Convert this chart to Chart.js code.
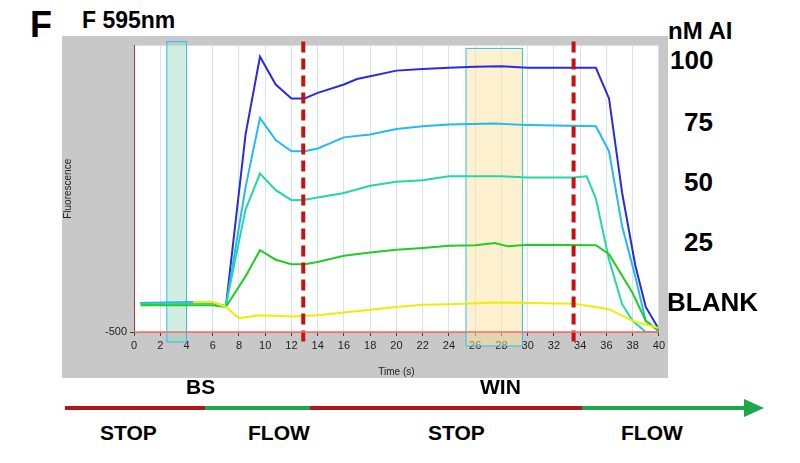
<!DOCTYPE html>
<html lang="en">
<head>
<meta charset="UTF-8">
<title>F 595nm</title>
<style>
  body { margin: 0; width: 800px; height: 463px; background: #fff; position: relative; font-family: Arial, "Liberation Sans", sans-serif; overflow: hidden; }
  .lbl { position: absolute; font-weight: bold; color: #000; white-space: nowrap; z-index: 2; }
  #wrap { position: absolute; left: 62px; top: 36px; width: 606px; height: 342px; background: #c8c8c8; }
  .bar { position: absolute; height: 4px; top: 406px; }
</style>
</head>
<body>
<div class="lbl" style="left:30px;top:4px;font-size:36px;">F</div>
<div class="lbl" style="left:82px;top:7px;font-size:23px;">F 595nm</div>
<div id="wrap"><canvas id="c" width="606" height="342"></canvas></div>

<div class="lbl" style="left:668px;top:17px;font-size:24px;">nM AI</div>
<div class="lbl" style="left:670px;top:45px;font-size:26px;">100</div>
<div class="lbl" style="left:684px;top:107px;font-size:26px;">75</div>
<div class="lbl" style="left:684px;top:167px;font-size:26px;">50</div>
<div class="lbl" style="left:684px;top:227px;font-size:26px;">25</div>
<div class="lbl" style="left:667px;top:287px;font-size:26px;">BLANK</div>

<div class="lbl" style="left:186px;top:375px;font-size:21px;">BS</div>
<div class="lbl" style="left:480px;top:375px;font-size:21px;">WIN</div>
<div class="bar" style="left:65px;width:140px;background:#b01818;"></div>
<div class="bar" style="left:205px;width:105px;background:#1aa84a;"></div>
<div class="bar" style="left:310px;width:272px;background:#b01818;"></div>
<div class="bar" style="left:582px;width:163px;background:#1aa84a;"></div>
<div style="position:absolute;left:744px;top:399px;width:0;height:0;border-top:9px solid transparent;border-bottom:9px solid transparent;border-left:20px solid #1aa84a;"></div>
<div class="lbl" style="left:100px;top:421px;font-size:21px;">STOP</div>
<div class="lbl" style="left:248px;top:421px;font-size:21px;">FLOW</div>
<div class="lbl" style="left:428px;top:421px;font-size:21px;">STOP</div>
<div class="lbl" style="left:621px;top:421px;font-size:21px;">FLOW</div>

<script src="https://cdn.jsdelivr.net/npm/chart.js"></script>
<script>
// series [time s, fluorescence]
const nm100 = [[0.5,20],[4.5,30],[6,30],[7,-50],[8.5,3050],[9.6,4450],[10.8,3950],[12,3700],[13,3700],[14,3800],[16,3950],[17,4050],[18,4100],[20,4200],[22,4230],[24,4250],[26,4270],[28,4280],[30,4250],[32,4250],[35.2,4250],[36.2,3700],[37.2,2000],[38.2,700],[39,-50],[40,-450]];
const nm75 = [[0.5,20],[6,30],[7,-50],[8.5,2100],[9.6,3350],[10.8,2950],[12,2750],[13,2750],[14,2800],[16,3000],[18,3050],[20,3150],[22,3200],[24,3230],[27.5,3250],[30,3220],[35.2,3200],[36.2,2750],[37.2,1400],[38.2,500],[39,-300],[40,-480]];
const nm50 = [[0.5,0],[6,20],[7,-30],[8.5,1700],[9.6,2350],[10.8,2050],[12,1870],[13,1880],[16,2000],[18,2130],[20,2200],[22,2230],[24,2300],[28,2300],[30,2280],[33.5,2280],[34.5,2300],[35.2,1900],[36.2,800],[37.2,0],[38,-300],[39,-500],[40,-500]];
const nm25 = [[0.5,-20],[4.5,-20],[6,-20],[7,-50],[8.5,500],[9.6,970],[10.8,800],[12,720],[13,720],[14,760],[16,870],[18,930],[20,980],[22,1010],[24,1050],[26,1060],[27.5,1100],[28.5,1040],[30,1070],[35.2,1060],[36.2,900],[38,200],[39,-300],[40,-480]];
const blank = [[4.5,40],[6,40],[7,-50],[8,-250],[9.6,-200],[12,-220],[14,-200],[16,-150],[18,-100],[20,-50],[22,-10],[24,0],[27.5,30],[30,20],[33.5,10],[35.2,-50],[36.2,-90],[38,-300],[40,-430]];
const stopLines = [12.9, 33.5];
const bsWindow = [2.5, 4];
const winWindow = [25.3, 29.6];

const toPts = a => a.map(p => ({x: p[0], y: p[1]}));
const ds = (data, color) => ({data: toPts(data), borderColor: color, borderWidth: 2, pointRadius: 0, tension: 0});

const overlay = {
  id: 'overlay',
  beforeDraw(chart) {
    const {ctx, chartArea: a} = chart;
    ctx.save();
    ctx.fillStyle = '#fff';
    ctx.fillRect(a.left, a.top, a.right - a.left, a.bottom - a.top);
    ctx.restore();
  },
  beforeDatasetsDraw(chart) {
    const {ctx, scales: {x, y}} = chart;
    const box = (r, fill, top, bot) => {
      const l = x.getPixelForValue(r[0]), rr = x.getPixelForValue(r[1]);
      ctx.fillStyle = fill; ctx.fillRect(l, top, rr - l, bot - top);
      ctx.strokeStyle = '#33bbee'; ctx.lineWidth = 1; ctx.strokeRect(l, top, rr - l, bot - top);
    };
    ctx.save();
    box(bsWindow, 'rgba(150,220,190,0.45)', y.getPixelForValue(4650) - 4, y.getPixelForValue(-500) + 10);
    box(winWindow, 'rgba(250,225,160,0.5)', y.getPixelForValue(4600), y.getPixelForValue(-500) + 14);
    ctx.restore();
  },
  afterDatasetsDraw(chart) {
    const {ctx, scales: {x, y}} = chart;
    ctx.save();
    ctx.strokeStyle = '#c81010'; ctx.lineWidth = 4; ctx.setLineDash([11, 6]);
    stopLines.forEach(v => {
      const px = x.getPixelForValue(v);
      ctx.beginPath(); ctx.moveTo(px, y.getPixelForValue(4650) - 4); ctx.lineTo(px, y.getPixelForValue(-500) + 12); ctx.stroke();
    });
    ctx.setLineDash([]);
    ctx.strokeStyle = '#f07070'; ctx.lineWidth = 1.5;
    ctx.beginPath(); ctx.moveTo(x.left, y.bottom); ctx.lineTo(x.right, y.bottom); ctx.stroke();
    ctx.restore();
  }
};

new Chart(document.getElementById('c'), {
  type: 'line',
  data: { datasets: [
    ds(blank, '#eeee00'),
    ds(nm25, '#22cc22'),
    ds(nm50, '#22d8a8'),
    ds(nm75, '#22bbf0'),
    ds(nm100, '#2a2ae6')
  ]},
  options: {
    responsive: false, animation: false,
    layout: { padding: { top: 6, right: 0, left: 0, bottom: 0 } },
    plugins: { legend: { display: false }, tooltip: { enabled: false } },
    scales: {
      x: {
        type: 'linear', min: 0, max: 40,
        ticks: { stepSize: 2, color: '#222', font: { size: 11 }, maxRotation: 0 },
        grid: { color: '#d4e4f6', tickColor: '#444', tickLength: 4 },
        border: { color: '#f07070' },
        title: { display: true, text: 'Time (s)', color: '#222', font: { size: 10 }, padding: 0 },
        afterFit(s) { s.height = 46; }
      },
      y: {
        min: -500, max: 4650,
        afterBuildTicks(s) { s.ticks = s.ticks.filter(t => t.value <= 4500 && t.value % 500 === 0); },
        ticks: { stepSize: 500, color: '#222', font: { size: 11 } },
        grid: { color: '#d4e4f6', tickColor: '#444', tickLength: 4 },
        border: { color: '#a04040' },
        title: { display: true, text: 'Fluorescence', color: '#222', font: { size: 10 }, padding: 0 },
        afterFit(s) { s.width = 72; }
      }
    }
  },
  plugins: [overlay]
});
</script>
</body>
</html>
